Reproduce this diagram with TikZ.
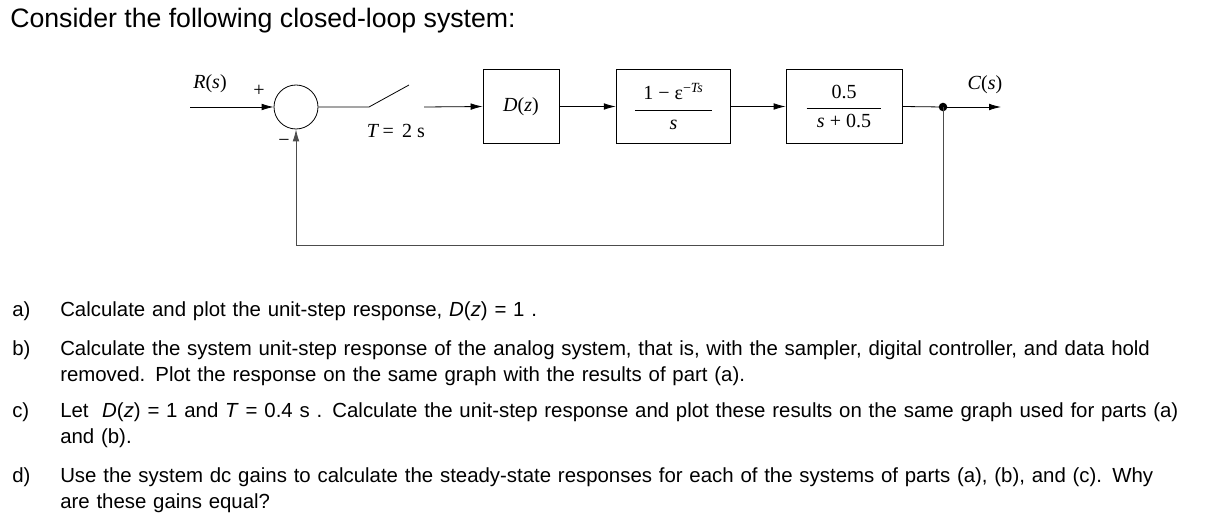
\documentclass[tikz,border=0pt]{standalone}
\usepackage{fontspec}
\setmainfont{Liberation Sans}
\newfontfamily\dfont{Liberation Serif}
\usetikzlibrary{arrows.meta}
\begin{document}
\begin{tikzpicture}[x=0.75pt,y=-0.75pt,
  blk/.style={draw,line width=0.6pt,minimum width=57pt,minimum height=56pt,inner sep=0pt,align=center,font=\dfont\fontsize{15}{17}\selectfont},
  sig/.style={line width=0.6pt,-{Latex[length=9pt,width=5pt]}},
  ln/.style={line width=0.6pt},
  dl/.style={font=\dfont\fontsize{15}{17}\selectfont},
  q/.style={anchor=north west,inner sep=0pt,font=\fontsize{15.3}{19.5}\selectfont,text width=#1,align=left}]
\useasboundingbox (0,0) rectangle (1213,520);
\node[anchor=west,inner sep=0pt,font=\fontsize{20}{22}\selectfont] (title) at (10,21) {Consider the following closed-loop system:};
% blocks
\node[draw,circle,line width=0.6pt,minimum size=33pt,inner sep=0pt] (sum) at (296,107) {};
\coordinate (rin) at (190,107);
\node[dl] (rl) at (210,84) {\textit{R}(\textit{s})};
\node[dl] (pl) at (259,91) {+};
\node[dl] (ml) at (284,143) {−};
\coordinate (sw1) at (369,107);
\coordinate (sw2) at (409,85);
\coordinate (sw3) at (424,107);
\node[dl] (tl) at (396,131) {\textit{T}\,= \,2 s};
\node[blk] (dz) at (521,106.5) {\textit{D}(\textit{z})};
\node[blk,minimum width=86pt] (zoh) at (673.5,106.5) {1 − ε\textsuperscript{−\textit{Ts}}\\[-9pt]\rule{58pt}{0.5pt}\\[-3pt]\textit{s}};
\node[blk,minimum width=87pt] (pl2) at (844,106.5) {0.5\\[-9pt]\rule{56pt}{0.5pt}\\[-3pt]\textit{s} + 0.5};
\fill (943,107) circle (3.2pt) coordinate (br);
\coordinate (out) at (1001,107);
\node[dl] (cl) at (985,85) {\textit{C}(\textit{s})};
\coordinate (fb1) at (943,245);
\coordinate (fb2) at (296,245);
\draw[sig] (rin) -- (sum.west);
\draw[ln] (sum.east) -- (sw1) -- (sw2);
\draw[sig] (sw3) -- (dz.west);
\draw[sig] (dz.east) -- (zoh.west);
\draw[sig] (zoh.east) -- (pl2.west);
\draw[ln] (pl2.east) -- (br);
\draw[sig] (br) -- (out);
\draw[sig,draw=black!70] (br) -- (fb1) -- (fb2) -- (sum.south);
% questions
\node[q=30pt] (qa) at (12,301) {a)};
\node[q=880pt] (ta) at (60,301) {Calculate and plot the unit-step response, \textit{D}(\textit{z}) = 1 .};
\node[q=30pt] (qb) at (12,340) {b)};
\node[q=880pt] (tb) at (60,340) {Calculate the system unit-step response of the analog system, that is, with the sampler, digital controller, and data hold\\removed. Plot the response on the same graph with the results of part (a).};
\node[q=30pt] (qc) at (12,402) {c)};
\node[q=880pt] (tc) at (60,402) {Let\ \ \textit{D}(\textit{z}) = 1 and \textit{T} = 0.4 s . Calculate the unit-step response and plot these results on the same graph used for parts (a)\\and (b).};
\node[q=30pt] (qd) at (12,467) {d)};
\node[q=880pt] (td) at (60,467) {Use the system dc gains to calculate the steady-state responses for each of the systems of parts (a), (b), and (c). Why\\are these gains equal?};
\end{tikzpicture}
\end{document}
